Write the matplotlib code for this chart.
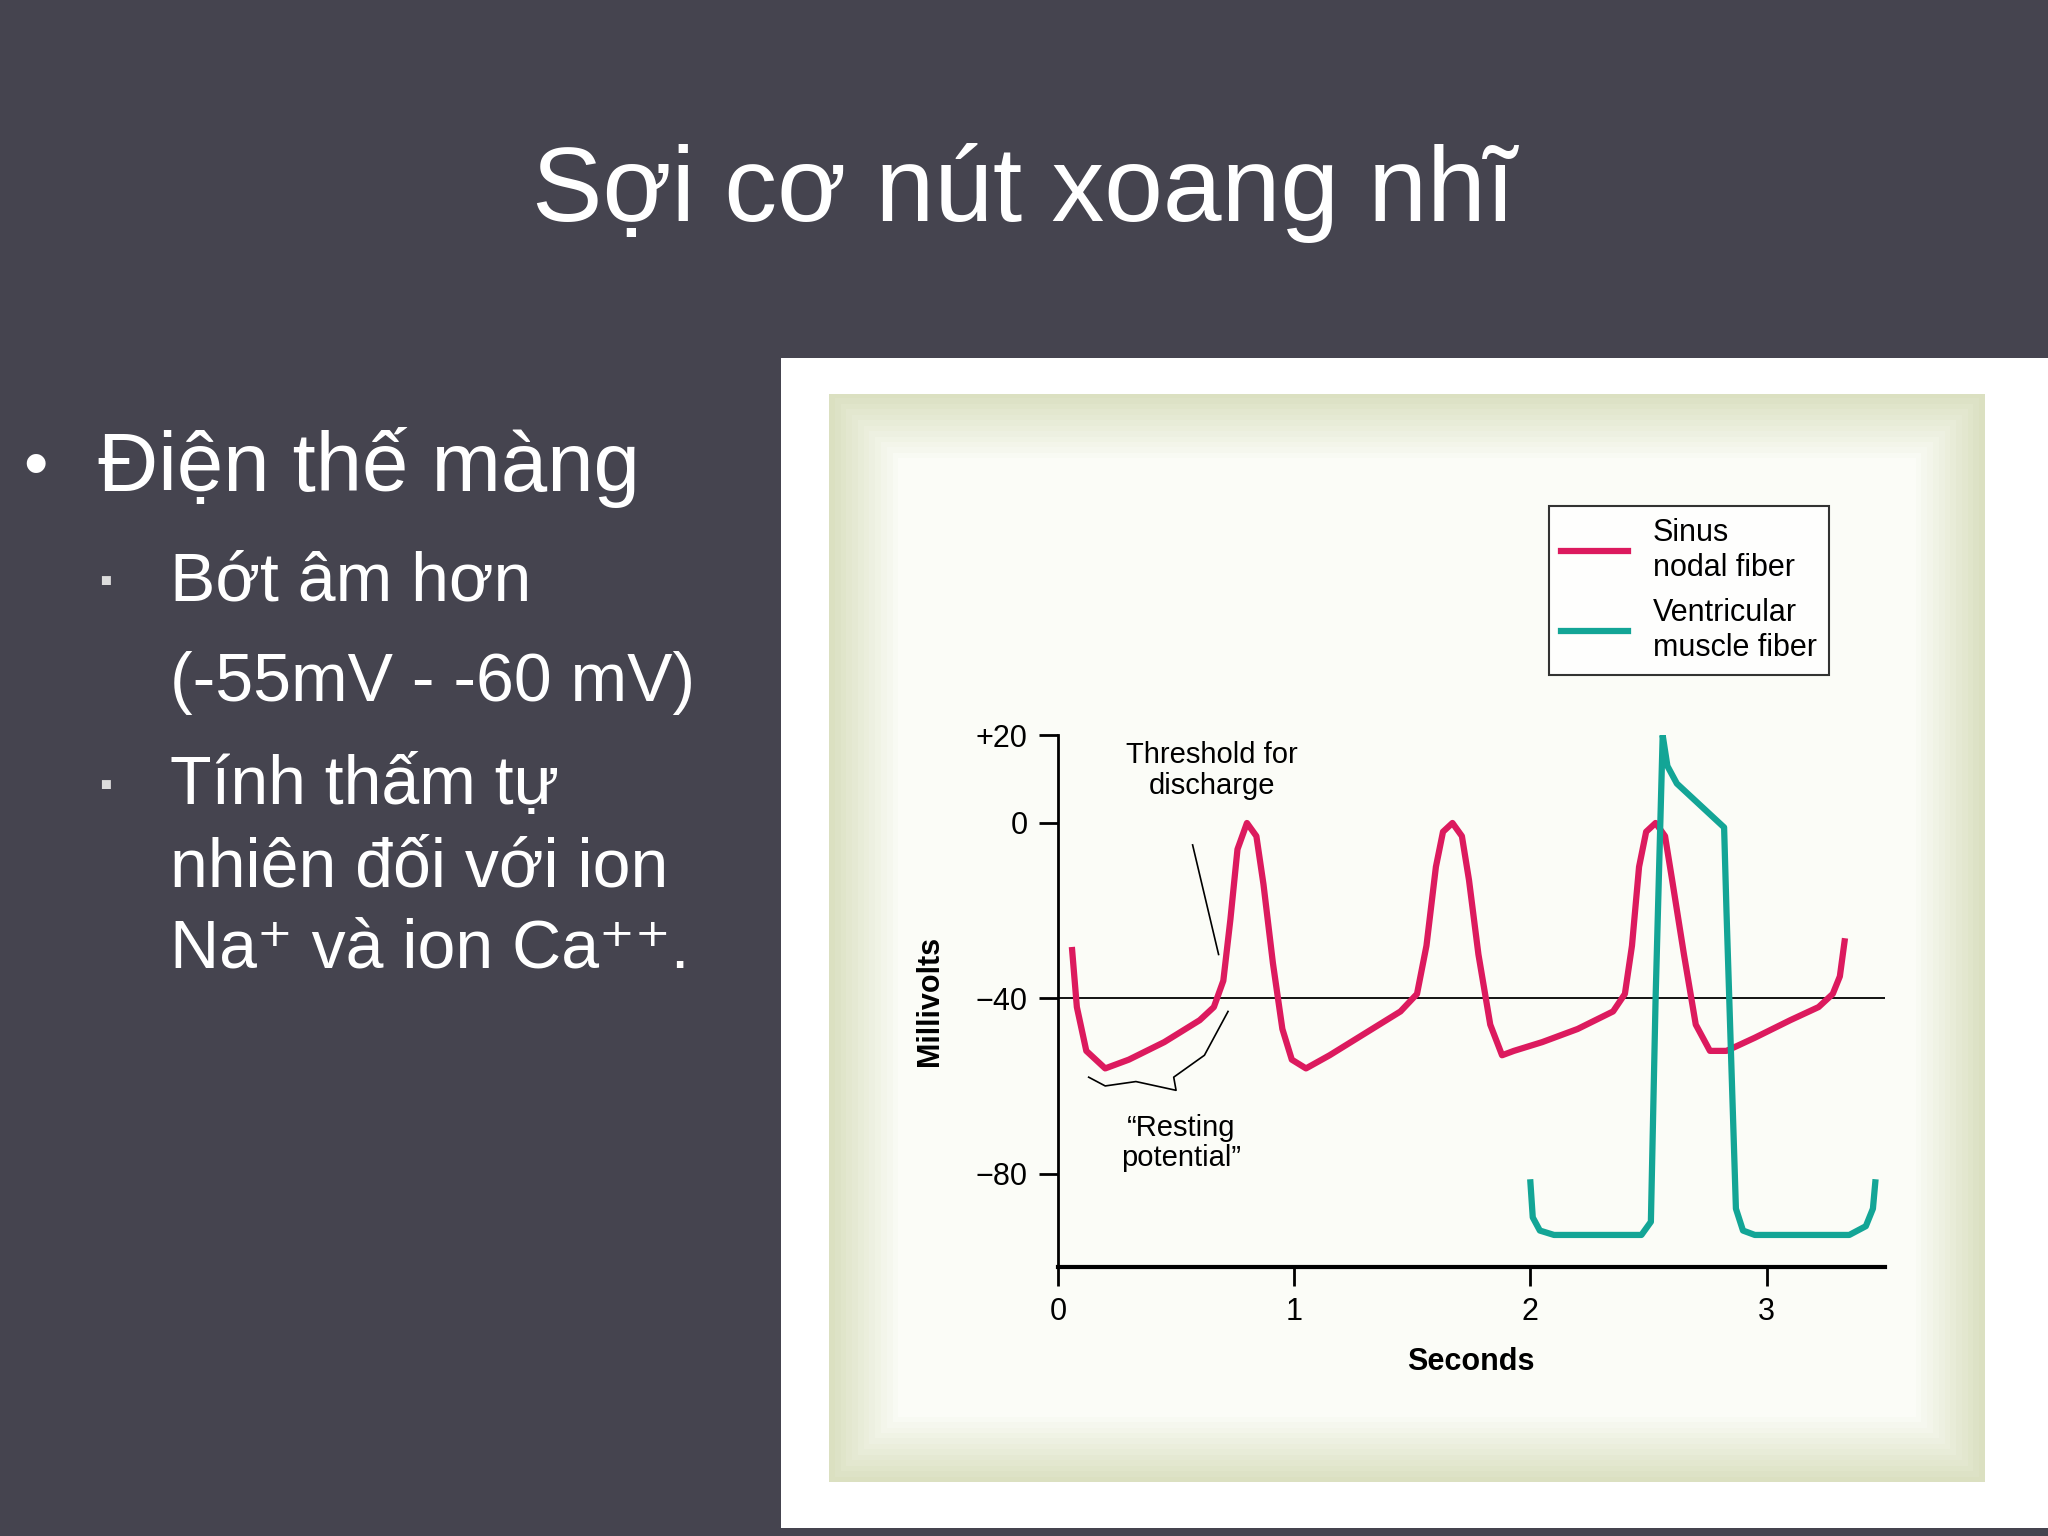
import numpy as np
import matplotlib
matplotlib.use("Agg")
import matplotlib.pyplot as plt

plt.rcParams["font.family"] = ["Liberation Sans", "DejaVu Sans"]

W, H = 1568, 1176  # layout reference grid

BG = "#45444F"
SINUS = "#DC1A5E"
VENT = "#13A596"

# data
sinus_t = [0.06, 0.08, 0.12, 0.2, 0.3, 0.45, 0.6, 0.66, 0.7, 0.73, 0.76, 0.8, 0.84, 0.87, 0.91, 0.95, 0.99, 1.05,
           1.15, 1.3, 1.45, 1.52, 1.56, 1.6, 1.63, 1.67, 1.71, 1.74, 1.78, 1.83, 1.88, 1.93,
           2.05, 2.2, 2.35, 2.4, 2.43, 2.46, 2.49, 2.53, 2.57, 2.6, 2.65, 2.7, 2.76, 2.83,
           2.95, 3.1, 3.22, 3.28, 3.31, 3.33]
sinus_v = [-29, -42, -52, -56, -54, -50, -45, -42, -36, -22, -6, 0, -3, -14, -32, -47, -54, -56,
           -53, -48, -43, -39, -28, -10, -2, 0, -3, -13, -30, -46, -53, -52,
           -50, -47, -43, -39, -28, -10, -2, 0, -3, -13, -30, -46, -52, -52,
           -49, -45, -42, -39, -35, -27]
vent_t = [2.0, 2.01, 2.04, 2.1, 2.3, 2.47, 2.51, 2.53, 2.56, 2.58, 2.62, 2.7, 2.78, 2.82, 2.83,
          2.87, 2.9, 2.95, 3.2, 3.35, 3.42, 3.45, 3.46]
vent_v = [-82, -90, -93, -94, -94, -94, -91, -40, 20, 13, 9, 5, 1, -1, -20,
          -88, -93, -94, -94, -94, -92, -88, -82]

x_ticks = [0, 1, 2, 3]
y_ticks = [-80, -40, 0, 20]
y_tick_labels = ["\u221280", "\u221240", "0", "+20"]
threshold = -40

fig = plt.figure(figsize=(20.48, 15.36), dpi=100)
fig.patch.set_facecolor(BG)


def fx(x):
    return x / W


def fy(y):
    return 1 - y / H


fig.text(0.5, fy(148), "Sợi cơ nút xoang nhĩ", color="white", fontsize=76,
         ha="center", va="center")
fig.text(fx(18), fy(358), "•", color="white", fontsize=50, va="center")
fig.text(fx(75), fy(358), "Điện thế màng", color="white", fontsize=60, va="center")
lines = [(446, "Bớt âm hơn", True), (523, "(-55mV - -60 mV)", False),
         (602, "Tính thấm tự", True), (665, "nhiên đối với ion", False),
         (727, "Na\u207a và ion Ca\u207a\u207a.", False)]
for y, txt, bullet in lines:
    if bullet:
        fig.text(fx(76), fy(y), "\u25aa", color="#DDDDDD", fontsize=26, va="center")
    fig.text(fx(130), fy(y), txt, color="white", fontsize=49, va="center")

# white panel + vignette box
wax = fig.add_axes([fx(598), fy(1170), 1 - fx(598), fy(274) - fy(1170)])
wax.set_facecolor("white")
wax.axis("off")
wax.add_patch(plt.Rectangle((0, 0), 1, 1, color="white"))
bax = fig.add_axes([fx(635), fy(1135), fx(1520) - fx(635), fy(302) - fy(1135)])
yy, xx = np.mgrid[0:200, 0:200] / 199.0
d = np.minimum(np.minimum(xx, 1 - xx), np.minimum(yy, 1 - yy))
v = np.clip(d / 0.06, 0, 1)
inner = np.array([0.985, 0.99, 0.97])
edge = np.array([0.86, 0.88, 0.76])
img = edge[None, None, :] * (1 - v[..., None]) + inner[None, None, :] * v[..., None]
bax.imshow(img, aspect="auto", extent=[0, 1, 0, 1])
bax.axis("off")

ax = fig.add_axes([fx(810), fy(970), fx(1443) - fx(810), fy(563) - fy(970)])
ax.patch.set_alpha(0)
ax.set_xlim(0, 3.5)
ax.set_ylim(-101.3, 20)
ax.axhline(threshold, color="black", lw=1.3)
ax.plot(sinus_t, sinus_v, color=SINUS, lw=4.5, solid_joinstyle="round", label="Sinus\nnodal fiber")
ax.plot(vent_t, vent_v, color=VENT, lw=4.5, solid_joinstyle="round", label="Ventricular\nmuscle fiber")
for s in ["top", "right"]:
    ax.spines[s].set_visible(False)
ax.spines["left"].set_linewidth(2)
ax.spines["bottom"].set_linewidth(3)
ax.set_xticks(x_ticks)
ax.set_yticks(y_ticks)
ax.set_yticklabels(y_tick_labels)
ax.tick_params(labelsize=22, width=2, length=14, pad=8)
ax.set_xlabel("Seconds", fontsize=22, fontweight="bold", labelpad=14)
ax.set_ylabel("Millivolts", fontsize=22, fontweight="bold", labelpad=22)

leg = ax.legend(loc="upper left", bbox_to_anchor=((1174 - 810) / (1443 - 810), 1.46),
                fontsize=22, frameon=True, fancybox=False, edgecolor="black",
                handlelength=2.2, labelspacing=0.5, borderpad=0.4)
leg.get_frame().set_linewidth(1.5)
leg.get_frame().set_facecolor("white")

ax.text(0.65, 12, "Threshold for\ndischarge", fontsize=21, ha="center", va="center", linespacing=1.1)
ax.plot([0.57, 0.68], [-5, -30], color="black", lw=1.2)
ax.text(0.52, -73, "\u201cResting\npotential\u201d", fontsize=21, ha="center", va="center", linespacing=1.1)
ax.plot([0.13, 0.2, 0.33, 0.5, 0.49, 0.62, 0.72], [-58, -60, -59, -61, -58, -53, -43],
        color="black", lw=1.2)

fig.savefig("out.png", dpi=100, facecolor=fig.get_facecolor())
